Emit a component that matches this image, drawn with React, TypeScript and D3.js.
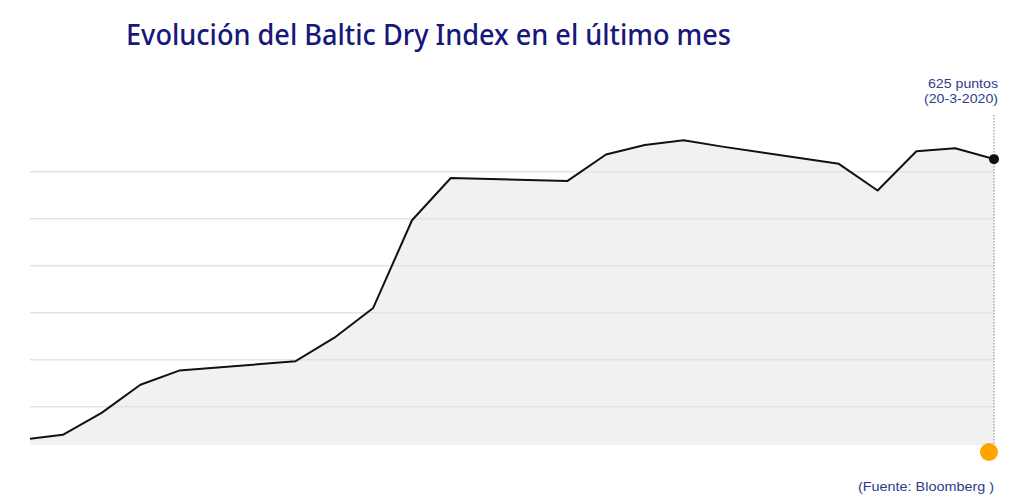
import React from 'react';
import * as d3 from 'd3';

// Baltic Dry Index, last month (points)
const dates = [
  '2020-02-24', '2020-02-25', '2020-02-26', '2020-02-27', '2020-02-28',
  '2020-03-02', '2020-03-03', '2020-03-04', '2020-03-05', '2020-03-06',
  '2020-03-09', '2020-03-10', '2020-03-11', '2020-03-12', '2020-03-13',
  '2020-03-16', '2020-03-17', '2020-03-18', '2020-03-19', '2020-03-20',
];
const values = [
  446, 449, 463, 481, 490,
  496, 511, 530, 586, 613,
  611, 628, 634, 637, 633,
  622, 605, 630, 632, 625,
];
const gridValues = [467, 497, 527, 557, 587, 617];

const W = 1016;
const H = 500;

export default function App() {
  const parse = d3.utcParse('%Y-%m-%d');
  const data = dates.map((d, i) => ({ date: parse(d) as Date, value: values[i] }));
  const last = data[data.length - 1];

  const x = d3.scaleUtc()
    .domain([data[0].date, last.date])
    .range([24, 994]);

  const y = d3.scaleLinear()
    .domain([442.5, 650])
    .range([445, 120]);

  const clipLeft = 30;
  const bottom = y(442.5);

  const area = d3.area<{ date: Date; value: number }>()
    .x(d => x(d.date))
    .y0(bottom)
    .y1(d => y(d.value));

  const line = d3.line<{ date: Date; value: number }>()
    .x(d => x(d.date))
    .y(d => y(d.value));

  const lx = x(last.date);

  return (
    <svg width={W} height={H} style={{ position: 'absolute', left: 0, top: 0, background: '#fff' }}>
      <defs>
        <clipPath id="plot">
          <rect x={clipLeft} y={0} width={lx - clipLeft} height={H} />
        </clipPath>
      </defs>

      <text
        x={126}
        y={45}
        fill="#16187a"
        fontFamily="'Noto Sans', sans-serif"
        fontSize={28}
        fontWeight={500}
        textLength={605}
        lengthAdjust="spacingAndGlyphs"
      >
        Evolución del Baltic Dry Index en el último mes
      </text>

      <g clipPath="url(#plot)">
        <path d={area(data) || ''} fill="#f1f1f1" />
        {gridValues.map(v => (
          <line key={v} x1={clipLeft} x2={lx} y1={y(v)} y2={y(v)} stroke="#e3e3e3" strokeWidth={1.5} />
        ))}
        <path d={line(data) || ''} fill="none" stroke="#111" strokeWidth={2} strokeLinejoin="round" />
      </g>

      <line x1={lx} x2={lx} y1={115} y2={bottom} stroke="#9a9a9a" strokeWidth={1.2} strokeDasharray="1.5 1.5" />
      <circle cx={lx} cy={y(last.value)} r={5} fill="#111" />
      <circle cx={lx - 5} cy={452} r={9} fill="#ffa500" />

      <g fontFamily="'Liberation Sans', Arial, sans-serif" fill="#2d3c8c" textAnchor="end">
        <text x={998} y={88} fontSize={13} textLength={70} lengthAdjust="spacingAndGlyphs">{last.value} puntos</text>
        <text x={998} y={103} fontSize={13} textLength={74} lengthAdjust="spacingAndGlyphs">(20-3-2020)</text>
        <text x={994} y={491} fontSize={13.5} textLength={136} lengthAdjust="spacingAndGlyphs">(Fuente: Bloomberg )</text>
      </g>
    </svg>
  );
}
